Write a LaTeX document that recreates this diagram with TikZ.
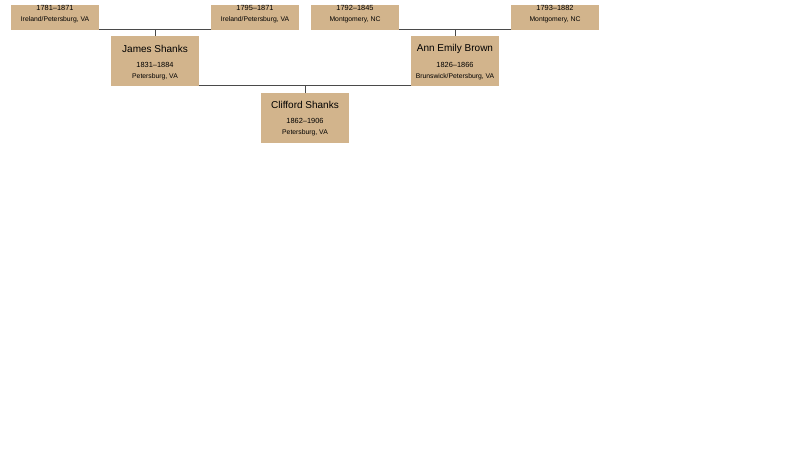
\documentclass[tikz,border=0pt]{standalone}
\usepackage{fontspec}
\setmainfont{Liberation Sans}
\usetikzlibrary{calc}
\definecolor{boxtan}{HTML}{D2B48C}
\definecolor{linegray}{HTML}{4A4A4A}
\tikzset{
  box/.style={fill=boxtan, draw=none, minimum width=88pt, minimum height=50pt, inner sep=0pt, outer sep=0pt},
  topbox/.style={fill=boxtan, draw=none, minimum width=88pt, minimum height=25pt, inner sep=0pt, outer sep=0pt},
  nametext/.style={font=\fontsize{10}{12}\selectfont, text=black, inner sep=0pt},
  datetext/.style={font=\fontsize{7.4}{9}\selectfont, text=black, inner sep=0pt},
  placetext/.style={font=\fontsize{6.8}{8}\selectfont, text=black, inner sep=0pt},
  link/.style={draw=linegray, line width=1pt}
}
\begin{document}
\begin{tikzpicture}[x=1pt,y=-1pt]
\useasboundingbox (0,0) rectangle (800,450);
% top row
\node[topbox] (f1) at (55,17.5) {};
\node[topbox] (m1) at (255,17.5) {};
\node[topbox] (f2) at (355,17.5) {};
\node[topbox] (m2) at (555,17.5) {};
\node[datetext] (f1d) at (55,8.4) {1781–1871};
\node[placetext] (f1p) at (55,20) {Ireland/Petersburg, VA};
\node[datetext] (m1d) at (255,8.4) {1795–1871};
\node[placetext] (m1p) at (255,20) {Ireland/Petersburg, VA};
\node[datetext] (f2d) at (355,8.4) {1792–1845};
\node[placetext] (f2p) at (355,20) {Montgomery, NC};
\node[datetext] (m2d) at (555,8.4) {1793–1882};
\node[placetext] (m2p) at (555,20) {Montgomery, NC};
% middle row
\node[box] (js) at (155,61) {};
\node[nametext] (jsn) at (155,48.5) {James Shanks};
\node[datetext] (jsd) at (155,64.7) {1831–1884};
\node[placetext] (jsp) at (155,76.3) {Petersburg, VA};
\node[box] (ae) at (455,61) {};
\node[nametext] (aen) at (455,48.5) {Ann Emily Brown};
\node[datetext] (aed) at (455,64.7) {1826–1866};
\node[placetext] (aep) at (455,76.3) {Brunswick/Petersburg, VA};
% bottom
\node[box] (cs) at (305,117.5) {};
\node[nametext] (csn) at (305,104.7) {Clifford Shanks};
\node[datetext] (csd) at (305,120.8) {1862–1906};
\node[placetext] (csp) at (305,132.4) {Petersburg, VA};
% connectors
\coordinate (c1) at ($(f1.south east)!0.5!(m1.south west)$);
\coordinate (c2) at ($(f2.south east)!0.5!(m2.south west)$);
\coordinate (c3) at ($(js.south east)!0.5!(ae.south west)$);
\draw[link] ($(f1.south east)+(0,-0.8)$) -- ($(m1.south west)+(0,-0.8)$);
\draw[link] ($(c1)+(0,-0.8)$) -- (js.north);
\draw[link] ($(f2.south east)+(0,-0.8)$) -- ($(m2.south west)+(0,-0.8)$);
\draw[link] ($(c2)+(0,-0.8)$) -- (ae.north);
\draw[link] ($(js.south east)+(0,-0.8)$) -- ($(ae.south west)+(0,-0.8)$);
\draw[link] ($(c3)+(0,-0.8)$) -- (cs.north);
\end{tikzpicture}
\end{document}
